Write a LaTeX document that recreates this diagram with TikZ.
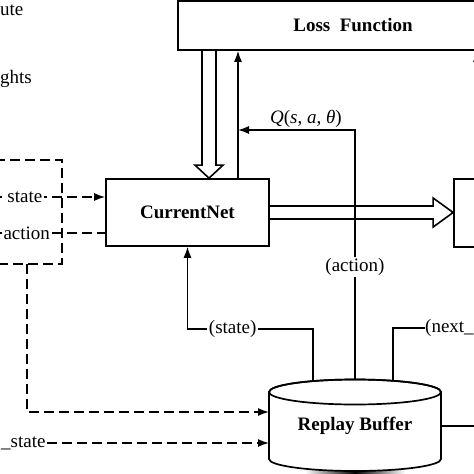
\documentclass[tikz,border=0pt]{standalone}
\usepackage{fontspec}
\setmainfont{Liberation Serif}
\usetikzlibrary{arrows.meta,calc}
\begin{document}
\begin{tikzpicture}[x=1pt,y=-1pt,
  font=\fontsize{19}{22}\selectfont,
  box/.style={draw, line width=1.7pt, inner sep=0pt},
  conn/.style={line width=1.3pt},
  dconn/.style={line width=1.5pt, dash pattern=on 10pt off 5pt},
  tip/.style={-{Latex[length=11pt,width=8pt]}},
  hollow/.style={draw, line width=1.6pt, line join=miter},
  lbl/.style={fill=white, inner sep=1.5pt}]
\useasboundingbox (0,0) rectangle (474,474);
\clip (0,0) rectangle (474,474);

% partial legend texts
\node[anchor=base west, inner sep=0pt] (t1) at (0,15) {ute};
\node[anchor=base west, inner sep=0pt] (t2) at (0,83) {ghts};

% main boxes
\node[box, minimum width=350pt, minimum height=49pt, font=\fontsize{19}{22}\selectfont\bfseries] (loss) at (353,25.5) {Loss\enspace Function};
\node[box, minimum width=163pt, minimum height=67pt, font=\fontsize{19}{22}\selectfont\bfseries] (cur) at (187.5,212.5) {CurrentNet};
\node[box, minimum width=100pt, minimum height=68pt] (tgt) at (504,213) {};

% replay buffer (cylinder)
\shade[left color=white, right color=black] (305,469) rectangle (355,476);
\shade[left color=black, right color=white] (355,469) rectangle (405,476);
\draw[line width=1.7pt, fill=white] (269,392) -- (269,459) arc[start angle=180, end angle=360, x radius=86pt, y radius=12pt] -- (441,392) arc[start angle=0, end angle=180, x radius=86pt, y radius=12.5pt] -- cycle;
\draw[line width=1.7pt] (355,392) ellipse [x radius=86pt, y radius=12.5pt];
\node[font=\fontsize{19}{22}\selectfont\bfseries, minimum width=172pt, minimum height=67pt, inner sep=0pt] (buf) at (355,426) {Replay Buffer};
\coordinate (bufS) at (313,381);
\coordinate (bufA) at (355,379.5);
\coordinate (bufN) at (393,381);
\coordinate (bufL1) at (269,412);
\coordinate (bufL2) at (269,443);
\coordinate (bufR) at (441,426);

% hollow arrows
\draw[hollow] let \p1=(loss.south), \p2=(cur.north) in
  (202pt,\y1) -- (202pt,\y2+13pt) -- (195pt,\y2+13pt) -- (209pt,\y2) -- (223pt,\y2+13pt) -- (216pt,\y2+13pt) -- (216pt,\y1);
\draw[hollow] let \p1=(cur.east), \p2=(tgt.west) in
  (\x1,\y1+6.5pt) -- (\x2-20pt,\y1+6.5pt) -- (\x2-20pt,\y1+14.5pt) -- (\x2,\y1) -- (\x2-20pt,\y1-14.5pt) -- (\x2-20pt,\y1-6.5pt) -- (\x1,\y1-6.5pt);

% thin connectors
\coordinate (qx) at (238,130);
\coordinate (rx) at (477,0);
\draw[conn, tip] (cur.north -| qx) -- (loss.south -| qx);
\draw[conn, tip] (tgt.north -| rx) -- (loss.south -| rx);
\draw[conn, tip] (bufA) -- node[lbl, pos=0.45] (lact) {(action)} (bufA |- qx) -- node[above, inner sep=2pt, pos=0.42] (lq) {\textit{Q}(\textit{s}, \textit{a}, \textit{θ})} (qx);

\coordinate (stc) at (0,329);
\draw[conn, tip] (bufS) -- (bufS |- stc) -- node[lbl, pos=0.64] (lst) {(state)} (cur.south |- stc) -- (cur.south);

\node[anchor=west, inner sep=0pt] (nx) at (425,328) {(next\_};
\draw[conn] (bufN) |- (nx.west);

\coordinate (rEnd) at (480,426);
\draw[conn] (bufR) -- (rEnd);

% dashed inputs
\coordinate (dbTL) at (-5,160);
\coordinate (dbTR) at (62,160);
\coordinate (dbBR) at (62,264);
\coordinate (dbBL) at (-5,264);
\draw[dconn] (dbTL) -- (dbTR) -- (dbBR) -- (dbBL);

\coordinate (stL) at (-8,197);
\coordinate (acL) at (-8,233);
\draw[dconn, tip] (stL) -- node[lbl, pos=0.29] (lstate) {state} (cur.west |- stL);
\draw[dconn] (acL) -- node[lbl, pos=0.307] (laction) {action} (cur.west |- acL);

\coordinate (dbB) at (27,264);
\draw[dconn, tip] (dbB) |- (bufL1);

\node[anchor=west, inner sep=1pt] (ns) at (0,443) {\_state};
\draw[dconn, tip] (ns.east) -- (bufL2);
\end{tikzpicture}
\end{document}
